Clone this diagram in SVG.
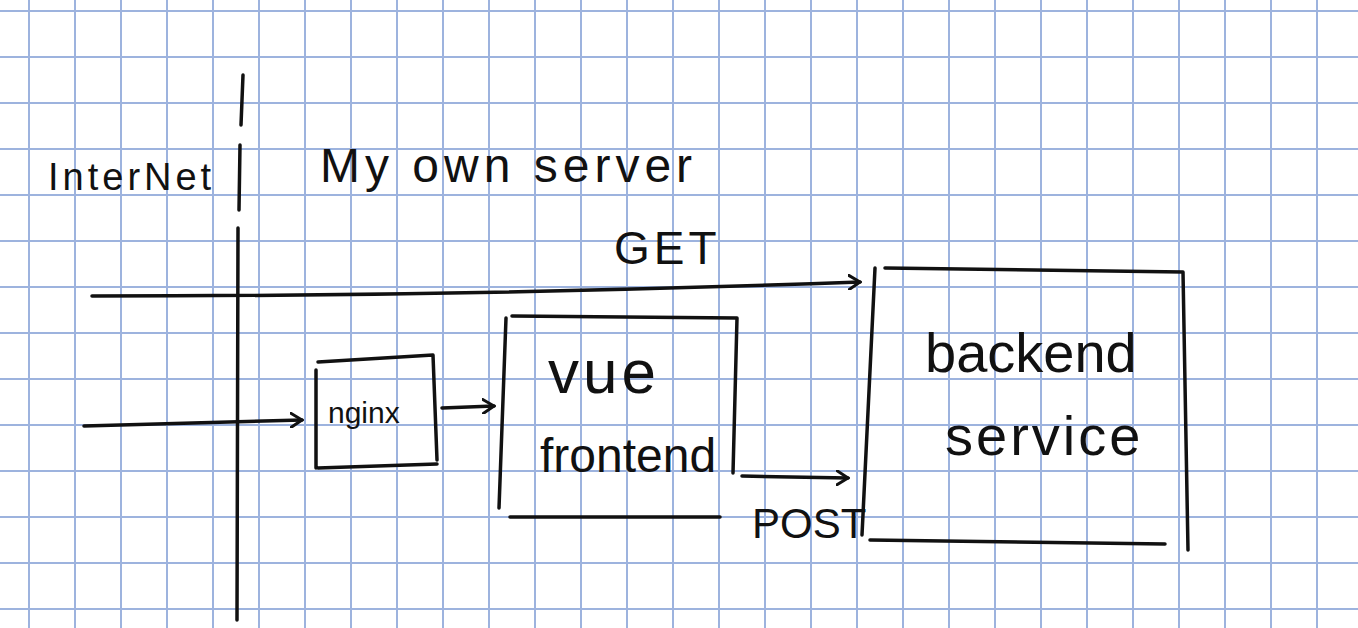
<svg xmlns="http://www.w3.org/2000/svg" width="1358" height="628" viewBox="0 0 1358 628">
<defs>
<pattern id="grid" x="28" y="10" width="46" height="46" patternUnits="userSpaceOnUse">
<path d="M0 1H46M1 0V46" fill="none" stroke="#9db3de" stroke-width="2"/>
</pattern>
<marker id="arr" markerWidth="14" markerHeight="16" refX="12" refY="8" orient="auto" markerUnits="userSpaceOnUse">
<path d="M1 1L12 8L1 15" fill="none" stroke="#111" stroke-width="3" stroke-linecap="round"/>
</marker>
<style>
.s{fill:none;stroke:#111;stroke-width:3.5;stroke-linecap:round;stroke-linejoin:round}
.t{font-family:"Liberation Sans",sans-serif;fill:#111}
</style>
</defs>
<rect width="1358" height="628" fill="#fff"/>
<rect width="1358" height="628" fill="url(#grid)"/>
<g id="divider"><path class="s" d="M243 75L241 125M240 145L239 210M238 228L237 620"/></g>
<text class="t" x="48" y="190" font-size="38" letter-spacing="4">InterNet</text>
<text class="t" x="320" y="182" font-size="48" letter-spacing="5">My own server</text>
<g id="nginx"><path class="s" d="M316 370L316 468M318 362L433 355L437 460M318 468L437 464"/><text class="t" x="328" y="423" font-size="30">nginx</text></g>
<g id="vue"><path class="s" d="M506 318L499 508M512 316L737 318L733 473M510 517L720 517"/><text class="t" x="548" y="393" font-size="62" letter-spacing="4">vue</text><text class="t" x="540" y="472" font-size="48">frontend</text></g>
<g id="backend"><path class="s" d="M875 268L862 535M885 268L1183 272L1188 550M870 540L1165 544"/><text class="t" x="925" y="372" font-size="56">backend</text><text class="t" x="945" y="455" font-size="56" letter-spacing="3">service</text></g>
<g id="connectors">
<path class="s" d="M92 296Q480 296 860 282" marker-end="url(#arr)"/>
<path class="s" d="M84 426L302 420" marker-end="url(#arr)"/>
<path class="s" d="M442 408L494 406" marker-end="url(#arr)"/>
<path class="s" d="M742 476L848 478" marker-end="url(#arr)"/>
</g>
<text class="t" x="614" y="264" font-size="46" letter-spacing="4">GET</text>
<text class="t" x="752" y="538" font-size="42">POST</text>
</svg>
